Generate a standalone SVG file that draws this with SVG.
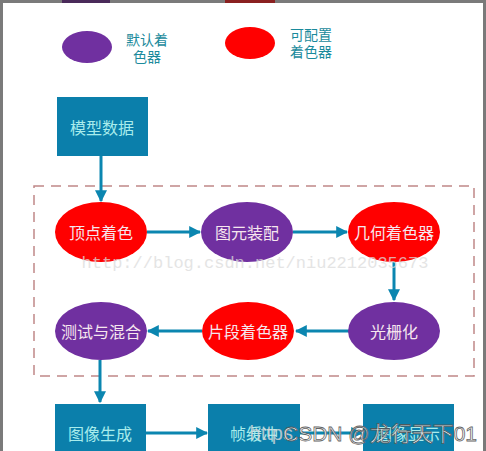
<svg xmlns="http://www.w3.org/2000/svg" width="486" height="451" viewBox="0 0 486 451">
<style>
text{font-family:"Noto Sans CJK SC","Noto Sans",sans-serif;text-anchor:middle;dominant-baseline:central}
.red{fill:#ff0000}
.pur{fill:#7030a0}
.box{fill:#0b7fab}
.lt{fill:#f6e6ee;font-size:16px}
.bt{fill:#a8ecec;font-size:16px}
.lg{fill:#1a8a9c;font-size:14px}
.con{stroke:#0b86b0;stroke-width:3;fill:none;marker-end:url(#ah)}
</style>
<defs>
<marker id="ah" viewBox="0 0 10 10" refX="9" refY="5" markerWidth="4" markerHeight="4" orient="auto" markerUnits="strokeWidth">
<path d="M0,0 L10,5 L0,10 z" fill="#0b86b0"/>
</marker>
</defs>
<rect x="0" y="0" width="486" height="451" fill="#ffffff"/>
<rect x="0" y="0" width="486" height="3" fill="#7a7a7a"/>
<rect x="62" y="0" width="48" height="3" fill="#4a2a5a"/>
<rect x="225" y="0" width="50" height="3" fill="#8a2020"/>
<rect x="0" y="0" width="3" height="451" fill="#7a7a7a"/>
<rect x="483" y="0" width="3" height="451" fill="#7a7a7a"/>

<g id="legend-default">
<ellipse cx="87" cy="47" rx="25" ry="16" class="pur"/>
<text x="147" y="39" class="lg">默认着</text>
<text x="147" y="56" class="lg">色器</text>
</g>
<g id="legend-config">
<ellipse cx="250" cy="43" rx="25" ry="16" class="red"/>
<text x="311" y="34" class="lg">可配置</text>
<text x="311" y="51" class="lg">着色器</text>
</g>

<rect x="34" y="186" width="440" height="190" fill="none" stroke="#c08888" stroke-width="1.5" stroke-dasharray="10,7"/>

<g id="connectors">
<line x1="101" y1="156" x2="101" y2="201" class="con"/>
<line x1="147" y1="232" x2="200" y2="232" class="con"/>
<line x1="293" y1="232" x2="347" y2="232" class="con"/>
<line x1="394" y1="262" x2="394" y2="300" class="con"/>
<line x1="349" y1="331" x2="296" y2="331" class="con"/>
<line x1="202" y1="331" x2="148" y2="331" class="con"/>
<line x1="100" y1="360" x2="100" y2="402" class="con"/>
<line x1="146" y1="433" x2="207" y2="433" class="con"/>
<line x1="300" y1="433" x2="362" y2="433" class="con"/>
</g>

<g id="model"><rect x="57" y="97" width="91" height="59" class="box"/><text x="102" y="127" class="bt">模型数据</text></g>
<g id="vertex"><ellipse cx="101" cy="232" rx="46" ry="30" class="red"/><text x="101" y="232" class="lt">顶点着色</text></g>
<g id="primitive"><ellipse cx="247" cy="232" rx="46" ry="30" class="pur"/><text x="247" y="232" class="lt">图元装配</text></g>
<g id="geometry"><ellipse cx="394" cy="232" rx="46" ry="30" class="red"/><text x="394" y="232" class="lt">几何着色器</text></g>
<g id="raster"><ellipse cx="394" cy="331" rx="46" ry="29" class="pur"/><text x="394" y="331" class="lt">光栅化</text></g>
<g id="fragment"><ellipse cx="248" cy="331" rx="46" ry="29" class="red"/><text x="248" y="331" class="lt">片段着色器</text></g>
<g id="test"><ellipse cx="101" cy="331" rx="46" ry="29" class="pur"/><text x="101" y="331" class="lt">测试与混合</text></g>
<g id="image"><rect x="55" y="404" width="91" height="59" class="box"/><text x="100" y="433" class="bt">图像生成</text></g>
<g id="frame"><rect x="208" y="404" width="92" height="59" class="box"/><text x="254" y="433" class="bt">帧缓冲</text></g>
<g id="display"><rect x="363" y="404" width="91" height="59" class="box"/><text x="408" y="433" class="bt">图像显示</text></g>

<text x="255" y="263" style="font-family:'Liberation Mono',monospace;font-size:17px;fill:#dcdcdc;opacity:0.75">http://blog.csdn.net/niu2212035673</text>
<text x="274" y="433" style="font-family:'Liberation Sans',sans-serif;font-size:20px;fill:#d8d8d8;opacity:0.8">https:</text>
<text x="380" y="433" style="font-family:'Liberation Sans','Noto Sans CJK SC',sans-serif;font-size:21px;fill:#ffffff;stroke:#555555;stroke-width:0.8;opacity:0.9">CSDN @龙行天下01</text>
</svg>
